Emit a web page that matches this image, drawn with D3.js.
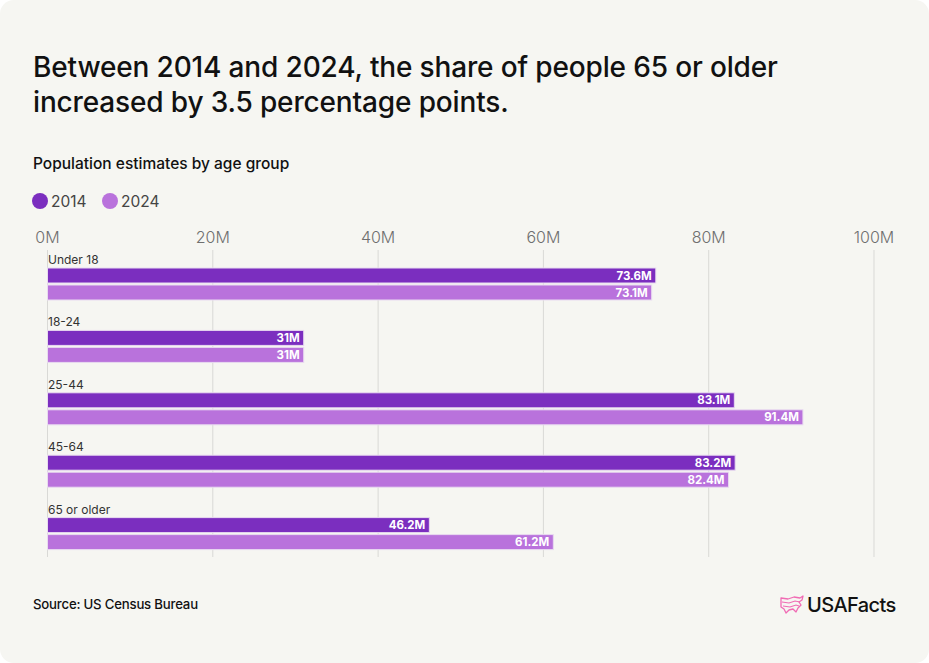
<!DOCTYPE html>
<html>
<head>
<meta charset="utf-8">
<script src="https://cdn.jsdelivr.net/npm/d3@7"></script>
<style>
  html, body { margin: 0; padding: 0; background: #ffffff; }
  svg { display: block; font-family: Inter, "Noto Sans", sans-serif; }
</style>
</head>
<body>
<div id="chart"></div>
<script>
// data
const categories = ["Under 18", "18-24", "25-44", "45-64", "65 or older"];
const years = ["2014", "2024"];
const values2014 = [73.6, 31, 83.1, 83.2, 46.2];
const values2024 = [73.1, 31, 91.4, 82.4, 61.2];
const xTicks = [0, 20, 40, 60, 80, 100];

const width = 929, height = 663;
const colors = { "2014": "#7b2ebf", "2024": "#b972dc" };

const rows = categories.map((c, i) => ({ cat: c, values: [
  { year: "2014", v: values2014[i] },
  { year: "2024", v: values2024[i] }
]}));

const svg = d3.select("#chart").append("svg")
    .attr("width", width)
    .attr("height", height);

// card background
svg.append("rect")
    .attr("x", 0).attr("y", 0)
    .attr("width", width).attr("height", height)
    .attr("rx", 14)
    .attr("fill", "#f6f6f2");

// title
const title = svg.append("text")
    .attr("x", 33)
    .attr("font-size", 28)
    .attr("font-weight", 500)
    .attr("fill", "#111")
    .attr("letter-spacing", -0.15);
title.append("tspan").attr("x", 33).attr("y", 77)
    .text("Between 2014 and 2024, the share of people 65 or older");
title.append("tspan").attr("x", 33).attr("y", 112)
    .text("increased by 3.5 percentage points.");

svg.append("text")
    .attr("x", 33).attr("y", 169)
    .attr("font-size", 15.5)
    .attr("font-weight", 500)
    .attr("fill", "#111")
    .text("Population estimates by age group");

// legend
const legend = svg.append("g").selectAll("g")
    .data(years)
    .join("g")
    .attr("transform", (d, i) => `translate(${40 + i * 70},201)`);
legend.append("circle")
    .attr("r", 8)
    .attr("fill", d => colors[d]);
legend.append("text")
    .attr("x", 11).attr("y", 6)
    .attr("font-size", 15.5)
    .attr("fill", "#444")
    .text(d => d);

// scales
const x = d3.scaleLinear().domain([0, 100]).range([47.5, 874]);
const y = d3.scaleBand().domain(categories).range([250, 562]);
const yInner = d3.scaleBand().domain(years).range([18, 50]).paddingInner(2 / 17);

// grid + tick labels
const grid = svg.append("g").selectAll("g")
    .data(xTicks)
    .join("g")
    .attr("transform", d => `translate(${x(d)},0)`);
grid.append("line")
    .attr("y1", 250).attr("y2", 557)
    .attr("stroke", "#d9d9d6")
    .attr("stroke-width", 1);
grid.append("text")
    .attr("y", 243)
    .attr("text-anchor", "middle")
    .attr("font-size", 16)
    .attr("font-weight", 300)
    .attr("fill", "#6f6f6f")
    .text(d => d + "M");

// groups
const group = svg.append("g").selectAll("g")
    .data(rows)
    .join("g")
    .attr("transform", d => `translate(0,${y(d.cat)})`);

group.append("text")
    .attr("x", 48).attr("y", 14)
    .attr("font-size", 12)
    .attr("fill", "#333")
    .text(d => d.cat);

const bar = group.selectAll("g.bar")
    .data(d => d.values)
    .join("g")
    .attr("class", "bar");

bar.append("rect")
    .attr("x", x(0))
    .attr("y", d => yInner(d.year))
    .attr("width", d => x(d.v) - x(0))
    .attr("height", yInner.bandwidth())
    .attr("fill", d => colors[d.year])
    .attr("stroke", "#e8daf0")
    .attr("stroke-width", 1);

bar.append("text")
    .attr("x", d => x(d.v) - 4)
    .attr("y", d => yInner(d.year) + yInner.bandwidth() / 2 + 4)
    .attr("text-anchor", "end")
    .attr("font-size", 11.5)
    .attr("font-weight", 700)
    .attr("fill", "#fff")
    .text(d => d3.format("~g")(d.v) + "M");

// footer
svg.append("text")
    .attr("x", 33).attr("y", 609)
    .attr("font-size", 13.2)
    .attr("font-weight", 500)
    .attr("letter-spacing", -0.2)
    .attr("fill", "#111")
    .text("Source: US Census Bureau");

// logo: rough US outline in pink plus wordmark
const logo = svg.append("g").attr("transform", "translate(780,596)");
logo.append("path")
    .attr("d", "M1,2 L8,3 L14,1 L20,2 L23,0 L22,4 L19,6 L21,9 L18,12 L16,16 L13,13 L9,14 L6,17 L4,13 L1,11 Z")
    .attr("fill", "none")
    .attr("stroke", "#f06bb4")
    .attr("stroke-width", 1.3)
    .attr("stroke-linejoin", "round");
logo.append("path")
    .attr("d", "M2,6 L9,7 L15,5 L20,6 M3,10 L10,11 L16,9 L19,10")
    .attr("fill", "none")
    .attr("stroke", "#f06bb4")
    .attr("stroke-width", 1.1);
svg.append("text")
    .attr("x", 807).attr("y", 612)
    .attr("font-size", 20)
    .attr("font-weight", 500)
    .attr("letter-spacing", -0.6)
    .attr("fill", "#111")
    .text("USAFacts");
</script>
</body>
</html>
